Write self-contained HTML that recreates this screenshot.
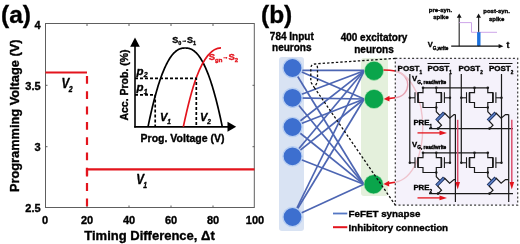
<!DOCTYPE html>
<html><head><meta charset="utf-8"><style>
html,body{margin:0;padding:0;background:#fff;}
svg{display:block;filter:blur(0.3px);}
text{font-family:"Liberation Sans", Arial, sans-serif;stroke:currentColor;stroke-width:0.35px;}
</style></head><body>
<svg width="520" height="244" viewBox="0 0 520 244">
<rect width="520" height="244" fill="#fff"/>
<text x="1" y="22.5" font-size="24.5" font-weight="bold" >(a)</text>
<rect x="45.5" y="23.5" width="208.8" height="184" fill="none" stroke="#5e5e5e" stroke-width="1"/>
<line x1="87" y1="207.5" x2="87" y2="205.5" stroke="#5e5e5e" stroke-width="1"/>
<line x1="87" y1="24" x2="87" y2="26" stroke="#5e5e5e" stroke-width="1"/>
<line x1="129" y1="207.5" x2="129" y2="205.5" stroke="#5e5e5e" stroke-width="1"/>
<line x1="129" y1="24" x2="129" y2="26" stroke="#5e5e5e" stroke-width="1"/>
<line x1="171" y1="207.5" x2="171" y2="205.5" stroke="#5e5e5e" stroke-width="1"/>
<line x1="171" y1="24" x2="171" y2="26" stroke="#5e5e5e" stroke-width="1"/>
<line x1="213" y1="207.5" x2="213" y2="205.5" stroke="#5e5e5e" stroke-width="1"/>
<line x1="213" y1="24" x2="213" y2="26" stroke="#5e5e5e" stroke-width="1"/>
<line x1="45.5" y1="85.3" x2="47.5" y2="85.3" stroke="#5e5e5e" stroke-width="1"/>
<line x1="254.5" y1="85.3" x2="252.5" y2="85.3" stroke="#5e5e5e" stroke-width="1"/>
<line x1="45.5" y1="146.7" x2="47.5" y2="146.7" stroke="#5e5e5e" stroke-width="1"/>
<line x1="254.5" y1="146.7" x2="252.5" y2="146.7" stroke="#5e5e5e" stroke-width="1"/>
<text x="40.6" y="28.5" font-size="11" font-weight="bold" text-anchor="end" >4</text>
<text x="40.6" y="89.7" font-size="11" font-weight="bold" text-anchor="end" >3.5</text>
<text x="40.6" y="150.89999999999998" font-size="11" font-weight="bold" text-anchor="end" >3</text>
<text x="40.6" y="212.2" font-size="11" font-weight="bold" text-anchor="end" >2.5</text>
<text x="45" y="224.2" font-size="11" font-weight="bold" text-anchor="middle" >0</text>
<text x="87" y="224.2" font-size="11" font-weight="bold" text-anchor="middle" >20</text>
<text x="129" y="224.2" font-size="11" font-weight="bold" text-anchor="middle" >40</text>
<text x="171" y="224.2" font-size="11" font-weight="bold" text-anchor="middle" >60</text>
<text x="213" y="224.2" font-size="11" font-weight="bold" text-anchor="middle" >80</text>
<text x="255" y="224.2" font-size="11" font-weight="bold" text-anchor="middle" >100</text>
<text x="149.5" y="239.8" font-size="13" font-weight="bold" text-anchor="middle" >Timing Difference, &#916;t</text>
<text transform="translate(18.8,115.8) rotate(-90)" x="0" y="0" font-size="12.8" font-weight="bold" text-anchor="middle" >Programming Voltage (V)</text>
<line x1="45.5" y1="72.5" x2="87" y2="72.5" stroke="#e3141d" stroke-width="2.2"/>
<line x1="87" y1="76" x2="87" y2="208" stroke="#e3141d" stroke-width="2.2" stroke-dasharray="7.8 7.5"/>
<polyline points="87,176.5 87,169.3 254.5,169.3" fill="none" stroke="#e3141d" stroke-width="2.2"/>
<text transform="translate(61.6,87.6) scale(0.84,1)" font-size="13.8" font-weight="bold" font-style="italic" >V<tspan font-size="8.2" dx="-0.8" dy="3.9">2</tspan></text>
<text transform="translate(136.3,184) scale(0.84,1)" font-size="13.8" font-weight="bold" font-style="italic" >V<tspan font-size="8.2" dx="-0.8" dy="3.9">1</tspan></text>
<line x1="135" y1="127.5" x2="135" y2="45" stroke="#000" stroke-width="1.6"/>
<polygon points="135,37.5 130.2,46.7 139.8,46.7" fill="#000"/>
<line x1="134.2" y1="126.8" x2="229" y2="126.8" stroke="#000" stroke-width="1.8"/>
<polygon points="236.2,126.8 227.5,121.8 227.5,131.8" fill="#000"/>
<polyline points="148.00,126.80 148.62,123.81 149.24,120.89 149.86,118.03 150.48,115.24 151.10,112.51 151.72,109.84 152.33,107.24 152.95,104.70 153.57,102.22 154.19,99.81 154.81,97.46 155.43,95.17 156.05,92.94 156.67,90.77 157.29,88.66 157.91,86.61 158.53,84.62 159.15,82.69 159.76,80.82 160.38,79.01 161.00,77.26 161.62,75.56 162.24,73.92 162.86,72.34 163.48,70.81 164.10,69.34 164.72,67.92 165.34,66.56 165.96,65.25 166.58,64.00 167.19,62.80 167.81,61.65 168.43,60.56 169.05,59.51 169.67,58.52 170.29,57.58 170.91,56.68 171.53,55.84 172.15,55.05 172.77,54.30 173.39,53.60 174.00,52.94 174.62,52.33 175.24,51.77 175.86,51.25 176.48,50.77 177.10,50.34 177.72,49.94 178.34,49.59 178.96,49.28 179.58,49.00 180.20,48.77 180.82,48.56 181.44,48.39 182.05,48.26 182.67,48.16 183.29,48.08 183.91,48.03 184.53,48.01 185.15,48.00 185.77,48.01 186.39,48.03 187.01,48.08 187.63,48.16 188.25,48.26 188.87,48.39 189.48,48.56 190.10,48.77 190.72,49.00 191.34,49.28 191.96,49.59 192.58,49.94 193.20,50.34 193.82,50.77 194.44,51.25 195.06,51.77 195.68,52.33 196.30,52.94 196.91,53.60 197.53,54.30 198.15,55.05 198.77,55.84 199.39,56.68 200.01,57.58 200.63,58.52 201.25,59.51 201.87,60.56 202.49,61.65 203.11,62.80 203.72,64.00 204.34,65.25 204.96,66.56 205.58,67.92 206.20,69.34 206.82,70.81 207.44,72.34 208.06,73.92 208.68,75.56 209.30,77.26 209.92,79.01 210.54,80.82 211.16,82.69 211.77,84.62 212.39,86.61 213.01,88.66 213.63,90.77 214.25,92.94 214.87,95.17 215.49,97.46 216.11,99.81 216.73,102.22 217.35,104.70 217.97,107.24 218.59,109.84 219.20,112.51 219.82,115.24 220.44,118.03 221.06,120.89 221.68,123.81 222.30,126.80" fill="none" stroke="#000" stroke-width="1.7"/>
<path d="M183.3,126.8 C189,100 200,48 221,47.8" fill="none" stroke="#e3141d" stroke-width="1.7"/>
<polyline points="135,78.4 196.3,78.4 196.3,126" fill="none" stroke="#000" stroke-width="1.7" stroke-dasharray="3 2"/>
<polyline points="135,94.8 155.2,94.8 155.2,126" fill="none" stroke="#000" stroke-width="1.7" stroke-dasharray="3 2"/>
<text x="136.6" y="74.8" font-size="11.5" font-weight="bold" font-style="italic" >p<tspan font-size="7" dy="2.6">2</tspan></text>
<text x="136.6" y="91.3" font-size="11.5" font-weight="bold" font-style="italic" >p<tspan font-size="7" dy="2.6">1</tspan></text>
<text x="160" y="121" font-size="11" font-weight="bold" font-style="italic" >V<tspan font-size="6.5" dy="3">1</tspan></text>
<text x="200" y="121" font-size="11" font-weight="bold" font-style="italic" >V<tspan font-size="6.5" dy="3">2</tspan></text>
<text x="172.3" y="42.8" font-size="9" font-weight="bold" >S<tspan font-size="5.5" dy="2">0</tspan><tspan font-size="5.5" dy="-2.8">&#8594;</tspan><tspan dy="0.8">S</tspan><tspan font-size="5.5" dy="2">1</tspan></text>
<text x="208.7" y="59.9" font-size="9.5" font-weight="bold" fill="#e3141d" color="#e3141d" >S<tspan font-size="6" dy="2.2">gn</tspan><tspan font-size="6" dy="-3">&#8594;</tspan><tspan dy="0.8">S</tspan><tspan font-size="6" dy="2.2">2</tspan></text>
<text x="182.5" y="141.6" font-size="10.5" font-weight="bold" text-anchor="middle" >Prog. Voltage (V)</text>
<text transform="translate(128.1,85) rotate(-90)" font-size="10.5" font-weight="bold" text-anchor="middle" >Acc. Prob. (%)</text>
<text x="261" y="23" font-size="24.5" font-weight="bold" >(b)</text>
<text x="291.8" y="40.3" font-size="10" font-weight="bold" text-anchor="middle" >784 Input</text>
<text x="291.8" y="51" font-size="10" font-weight="bold" text-anchor="middle" >neurons</text>
<text x="374" y="41.1" font-size="10" font-weight="bold" text-anchor="middle" >400 excitatory</text>
<text x="374" y="52.6" font-size="10" font-weight="bold" text-anchor="middle" >neurons</text>
<rect x="279" y="57" width="25" height="174" rx="3" fill="#d9e3f3"/>
<rect x="361" y="58" width="27" height="138" rx="3" fill="#e4f0dc"/>
<line x1="292.5" y1="70.3" x2="364.2" y2="70.3" stroke="#4d66b3" stroke-width="1.7"/>
<line x1="292.5" y1="68" x2="364.2" y2="99" stroke="#4d66b3" stroke-width="1.7"/>
<line x1="292.5" y1="68" x2="363.8" y2="184.3" stroke="#4d66b3" stroke-width="1.7"/>
<line x1="292.5" y1="97.8" x2="364.2" y2="70.8" stroke="#4d66b3" stroke-width="1.7"/>
<line x1="292.5" y1="97.8" x2="364.2" y2="99" stroke="#4d66b3" stroke-width="1.7"/>
<line x1="292.5" y1="97.8" x2="363.8" y2="184.3" stroke="#4d66b3" stroke-width="1.7"/>
<line x1="292.5" y1="127" x2="364.2" y2="70.8" stroke="#4d66b3" stroke-width="1.7"/>
<line x1="292.5" y1="127" x2="364.2" y2="99" stroke="#4d66b3" stroke-width="1.7"/>
<line x1="292.5" y1="127" x2="363.8" y2="184.3" stroke="#4d66b3" stroke-width="1.7"/>
<line x1="292.5" y1="156.3" x2="364.2" y2="70.8" stroke="#4d66b3" stroke-width="1.7"/>
<line x1="292.5" y1="156.3" x2="364.2" y2="99" stroke="#4d66b3" stroke-width="1.7"/>
<line x1="292.5" y1="156.3" x2="363.8" y2="184.3" stroke="#4d66b3" stroke-width="1.7"/>
<line x1="292.5" y1="217" x2="364.2" y2="70.8" stroke="#4d66b3" stroke-width="1.7"/>
<line x1="292.5" y1="217" x2="364.2" y2="99" stroke="#4d66b3" stroke-width="1.7"/>
<line x1="292.5" y1="217" x2="363.8" y2="184.3" stroke="#4d66b3" stroke-width="1.7"/>
<circle cx="292.5" cy="68" r="9.6" fill="#3d6fcf" stroke="#b9cff2" stroke-width="1.4"/>
<circle cx="292.5" cy="97.8" r="9.6" fill="#3d6fcf" stroke="#b9cff2" stroke-width="1.4"/>
<circle cx="292.5" cy="127" r="9.6" fill="#3d6fcf" stroke="#b9cff2" stroke-width="1.4"/>
<circle cx="292.5" cy="156.3" r="9.6" fill="#3d6fcf" stroke="#b9cff2" stroke-width="1.4"/>
<circle cx="292.5" cy="217" r="9.6" fill="#3d6fcf" stroke="#b9cff2" stroke-width="1.4"/>
<circle cx="374" cy="70.8" r="9.6" fill="#0aa54b" stroke="#b8e8b8" stroke-width="0.6"/>
<circle cx="374" cy="99" r="9.6" fill="#0aa54b" stroke="#b8e8b8" stroke-width="0.6"/>
<circle cx="373.6" cy="184.3" r="9.6" fill="#0aa54b" stroke="#b8e8b8" stroke-width="0.6"/>
<path d="M383.5,70 Q390,70 395.5,71" fill="none" stroke="#e3141d" stroke-width="1.6"/>
<rect x="395.3" y="58.4" width="122.4" height="146.8" fill="#f5f2fb"/>
<path d="M395,71 C412,74 412,96 395,97.8" fill="none" stroke="#e7a4b4" stroke-width="1.4"/>
<path d="M395,71 C432,80 432,176 395,182.3" fill="none" stroke="#efc3cd" stroke-width="1.4"/>
<rect x="395.3" y="58.4" width="122.4" height="146.8" fill="none" stroke="#3a3a3a" stroke-width="1.2" stroke-dasharray="2 2.2"/>
<line x1="395" y1="97.8" x2="388" y2="98.6" stroke="#e3141d" stroke-width="1.6"/>
<polygon points="383.8,99 389.5,95.8 389.5,101.6" fill="#e3141d"/>
<line x1="395" y1="182.3" x2="388" y2="183.4" stroke="#e3141d" stroke-width="1.6"/>
<polygon points="383.5,184 389.2,180.8 389.2,186.6" fill="#e3141d"/>
<path d="M395.3,58.4 L316,63.8 C312,64 310.8,65.5 310.8,69 L310.8,82 L314.3,87.5 L317.5,82 L317.5,68 C317.5,65.5 316.5,64.3 314.5,64" fill="none" stroke="#111" stroke-width="1.3" stroke-dasharray="2.4 2"/>
<line x1="314.3" y1="87.5" x2="395.4" y2="205.2" stroke="#111" stroke-width="1.3" stroke-dasharray="2.4 2"/>
<line x1="333" y1="213.5" x2="347.3" y2="213.5" stroke="#5577c4" stroke-width="1.8"/>
<line x1="333" y1="227.2" x2="347.3" y2="227.2" stroke="#e3141d" stroke-width="2"/>
<text x="348.5" y="216.8" font-size="9.8" font-weight="bold" >FeFET synapse</text>
<text x="348.5" y="230.9" font-size="9.8" font-weight="bold" >Inhibitory connection</text>
<path d="M409.8,97.8 H415" fill="none" stroke="#1a1a1a" stroke-width="1.1"/>
<path d="M450,97.8 H444.4" fill="none" stroke="#1a1a1a" stroke-width="1.1"/>
<path d="M415,92.2 V103" fill="none" stroke="#1a1a1a" stroke-width="1.1"/>
<path d="M444.4,92.2 V103" fill="none" stroke="#1a1a1a" stroke-width="1.1"/>
<path d="M423,87.8 V92.7 H418 V102.5 H423 V107.5 H436.3 V102.5 H441.4 V92.7 H436.3 V87.8" fill="none" stroke="#1a1a1a" stroke-width="1.2"/>
<path d="M418,92.7 V102.5" fill="none" stroke="#1a1a1a" stroke-width="1.6"/>
<path d="M441.4,92.7 V102.5" fill="none" stroke="#1a1a1a" stroke-width="1.6"/>
<path d="M436.3,107.5 V111.7 L439.8,115.4" fill="none" stroke="#1a1a1a" stroke-width="1.2"/>
<line x1="436.4" y1="120.6" x2="444.2" y2="112.8" stroke="#1d2f5e" stroke-width="3.4"/>
<line x1="436.9" y1="120.1" x2="443.7" y2="113.3" stroke="#5b80c8" stroke-width="1.6"/>
<path d="M461.3,97.8 H466.5" fill="none" stroke="#1a1a1a" stroke-width="1.1"/>
<path d="M501.5,97.8 H495.9" fill="none" stroke="#1a1a1a" stroke-width="1.1"/>
<path d="M466.5,92.2 V103" fill="none" stroke="#1a1a1a" stroke-width="1.1"/>
<path d="M495.9,92.2 V103" fill="none" stroke="#1a1a1a" stroke-width="1.1"/>
<path d="M474.5,87.8 V92.7 H469.5 V102.5 H474.5 V107.5 H487.8 V102.5 H492.9 V92.7 H487.8 V87.8" fill="none" stroke="#1a1a1a" stroke-width="1.2"/>
<path d="M469.5,92.7 V102.5" fill="none" stroke="#1a1a1a" stroke-width="1.6"/>
<path d="M492.9,92.7 V102.5" fill="none" stroke="#1a1a1a" stroke-width="1.6"/>
<path d="M487.8,107.5 V111.7 L491.3,115.4" fill="none" stroke="#1a1a1a" stroke-width="1.2"/>
<line x1="487.9" y1="120.6" x2="495.7" y2="112.8" stroke="#1d2f5e" stroke-width="3.4"/>
<line x1="488.4" y1="120.1" x2="495.2" y2="113.3" stroke="#5b80c8" stroke-width="1.6"/>
<path d="M409.8,162.8 H415" fill="none" stroke="#1a1a1a" stroke-width="1.1"/>
<path d="M450,162.8 H444.4" fill="none" stroke="#1a1a1a" stroke-width="1.1"/>
<path d="M415,157.2 V168" fill="none" stroke="#1a1a1a" stroke-width="1.1"/>
<path d="M444.4,157.2 V168" fill="none" stroke="#1a1a1a" stroke-width="1.1"/>
<path d="M423,152.8 V157.7 H418 V167.5 H423 V172.5 H436.3 V167.5 H441.4 V157.7 H436.3 V152.8" fill="none" stroke="#1a1a1a" stroke-width="1.2"/>
<path d="M418,157.7 V167.5" fill="none" stroke="#1a1a1a" stroke-width="1.6"/>
<path d="M441.4,157.7 V167.5" fill="none" stroke="#1a1a1a" stroke-width="1.6"/>
<path d="M436.3,172.5 V176.7 L439.8,180.4" fill="none" stroke="#1a1a1a" stroke-width="1.2"/>
<line x1="436.4" y1="185.6" x2="444.2" y2="177.8" stroke="#1d2f5e" stroke-width="3.4"/>
<line x1="436.9" y1="185.1" x2="443.7" y2="178.3" stroke="#5b80c8" stroke-width="1.6"/>
<path d="M461.3,162.8 H466.5" fill="none" stroke="#1a1a1a" stroke-width="1.1"/>
<path d="M501.5,162.8 H495.9" fill="none" stroke="#1a1a1a" stroke-width="1.1"/>
<path d="M466.5,157.2 V168" fill="none" stroke="#1a1a1a" stroke-width="1.1"/>
<path d="M495.9,157.2 V168" fill="none" stroke="#1a1a1a" stroke-width="1.1"/>
<path d="M474.5,152.8 V157.7 H469.5 V167.5 H474.5 V172.5 H487.8 V167.5 H492.9 V157.7 H487.8 V152.8" fill="none" stroke="#1a1a1a" stroke-width="1.2"/>
<path d="M469.5,157.7 V167.5" fill="none" stroke="#1a1a1a" stroke-width="1.6"/>
<path d="M492.9,157.7 V167.5" fill="none" stroke="#1a1a1a" stroke-width="1.6"/>
<path d="M487.8,172.5 V176.7 L491.3,180.4" fill="none" stroke="#1a1a1a" stroke-width="1.2"/>
<line x1="487.9" y1="185.6" x2="495.7" y2="177.8" stroke="#1d2f5e" stroke-width="3.4"/>
<line x1="488.4" y1="185.1" x2="495.2" y2="178.3" stroke="#5b80c8" stroke-width="1.6"/>
<path d="M444.2,112.8 L449.6,118.1 L454,114.6 H455.4" fill="none" stroke="#1a1a1a" stroke-width="1.2"/>
<path d="M437.6,121 L441.5,125.2 L438,128.6" fill="none" stroke="#1a1a1a" stroke-width="1.2"/>
<circle cx="438" cy="128.6" r="1.3" fill="#1a1a1a"/>
<path d="M444.2,177.8 L449.6,183.1 L454,179.6 H455.4" fill="none" stroke="#1a1a1a" stroke-width="1.2"/>
<path d="M437.6,186 L441.5,190.2 L438,193.6" fill="none" stroke="#1a1a1a" stroke-width="1.2"/>
<circle cx="438" cy="193.6" r="1.3" fill="#1a1a1a"/>
<path d="M495.7,112.8 L501.1,118.1 L505.5,114.6 H508.7" fill="none" stroke="#1a1a1a" stroke-width="1.2"/>
<path d="M489.1,121 L493.0,125.2 L489.5,128.6" fill="none" stroke="#1a1a1a" stroke-width="1.2"/>
<circle cx="489.5" cy="128.6" r="1.3" fill="#1a1a1a"/>
<path d="M495.7,177.8 L501.1,183.1 L505.5,179.6 H508.7" fill="none" stroke="#1a1a1a" stroke-width="1.2"/>
<path d="M489.1,186 L493.0,190.2 L489.5,193.6" fill="none" stroke="#1a1a1a" stroke-width="1.2"/>
<circle cx="489.5" cy="193.6" r="1.3" fill="#1a1a1a"/>
<path d="M409.8,74 V162.7" fill="none" stroke="#1a1a1a" stroke-width="1.2"/>
<path d="M450,74 V162.7" fill="none" stroke="#1a1a1a" stroke-width="1.2"/>
<path d="M461.3,74 V162.7" fill="none" stroke="#1a1a1a" stroke-width="1.2"/>
<path d="M501.5,74 V162.7" fill="none" stroke="#1a1a1a" stroke-width="1.2"/>
<path d="M455.4,114.6 V202" fill="none" stroke="#1a1a1a" stroke-width="1.2"/>
<path d="M508.7,114.6 V202" fill="none" stroke="#1a1a1a" stroke-width="1.2"/>
<path d="M423,87.8 H487.8" fill="none" stroke="#1a1a1a" stroke-width="1.2"/>
<circle cx="423" cy="87.8" r="1.3" fill="#1a1a1a"/>
<circle cx="436.3" cy="87.8" r="1.3" fill="#1a1a1a"/>
<circle cx="474.5" cy="87.8" r="1.3" fill="#1a1a1a"/>
<circle cx="487.8" cy="87.8" r="1.3" fill="#1a1a1a"/>
<circle cx="409.8" cy="97.8" r="1.2" fill="#1a1a1a"/>
<circle cx="450" cy="97.8" r="1.2" fill="#1a1a1a"/>
<circle cx="461.3" cy="97.8" r="1.2" fill="#1a1a1a"/>
<circle cx="501.5" cy="97.8" r="1.2" fill="#1a1a1a"/>
<circle cx="436.3" cy="107.5" r="1.2" fill="#1a1a1a"/><circle cx="487.8" cy="107.5" r="1.2" fill="#1a1a1a"/>
<path d="M429,128.6 H513" fill="none" stroke="#1a1a1a" stroke-width="1.3"/>
<line x1="417.5" y1="132.9" x2="440" y2="132.9" stroke="#e3141d" stroke-width="1.3"/>
<polygon points="447,132.9 439.5,130.6 439.5,135.2" fill="#e3141d"/>
<path d="M423,152.8 H487.8" fill="none" stroke="#1a1a1a" stroke-width="1.2"/>
<circle cx="423" cy="152.8" r="1.3" fill="#1a1a1a"/>
<circle cx="436.3" cy="152.8" r="1.3" fill="#1a1a1a"/>
<circle cx="474.5" cy="152.8" r="1.3" fill="#1a1a1a"/>
<circle cx="487.8" cy="152.8" r="1.3" fill="#1a1a1a"/>
<circle cx="409.8" cy="162.8" r="1.2" fill="#1a1a1a"/>
<circle cx="450" cy="162.8" r="1.2" fill="#1a1a1a"/>
<circle cx="461.3" cy="162.8" r="1.2" fill="#1a1a1a"/>
<circle cx="501.5" cy="162.8" r="1.2" fill="#1a1a1a"/>
<circle cx="436.3" cy="172.5" r="1.2" fill="#1a1a1a"/><circle cx="487.8" cy="172.5" r="1.2" fill="#1a1a1a"/>
<path d="M429,193.6 H513" fill="none" stroke="#1a1a1a" stroke-width="1.3"/>
<line x1="417.5" y1="197.9" x2="440" y2="197.9" stroke="#e3141d" stroke-width="1.3"/>
<polygon points="447,197.9 439.5,195.6 439.5,200.2" fill="#e3141d"/>
<line x1="457.7" y1="119.8" x2="457.7" y2="183" stroke="#dc4f6e" stroke-width="1.5"/>
<polygon points="457.7,189.4 455.4,182 460.0,182" fill="#e3141d"/>
<line x1="511.8" y1="119.8" x2="511.8" y2="183" stroke="#dc4f6e" stroke-width="1.5"/>
<polygon points="511.8,189.4 509.5,182 514.1,182" fill="#e3141d"/>
<text x="397.6" y="70.9" font-size="8" font-weight="bold" >POST<tspan font-size="4.6" dy="3.4">1</tspan></text>
<text x="427.4" y="70.9" font-size="8" font-weight="bold" >POST<tspan font-size="4.6" dy="3.4">1</tspan></text>
<text x="458.4" y="70.9" font-size="8" font-weight="bold" >POST<tspan font-size="4.6" dy="3.4">2</tspan></text>
<text x="488.9" y="70.9" font-size="8" font-weight="bold" >POST<tspan font-size="4.6" dy="3.4">2</tspan></text>
<line x1="427.5" y1="63.5" x2="449.8" y2="63.5" stroke="#111" stroke-width="1"/>
<line x1="489" y1="63.5" x2="512.5" y2="63.5" stroke="#111" stroke-width="1"/>
<text x="412" y="81" font-size="7.8" font-weight="bold" >V<tspan font-size="4.8" dy="2.6">G, </tspan><tspan font-size="4.8">read/write</tspan></text>
<text x="412" y="146.8" font-size="7.8" font-weight="bold" >V<tspan font-size="4.8" dy="2.6">G, </tspan><tspan font-size="4.8">read/write</tspan></text>
<text x="413.4" y="124.8" font-size="7.8" font-weight="bold" >PRE<tspan font-size="4.6" dy="3">1</tspan></text>
<text x="413.4" y="189.8" font-size="7.8" font-weight="bold" >PRE<tspan font-size="4.6" dy="3">2</tspan></text>
<line x1="459.2" y1="46.2" x2="459.2" y2="17" stroke="#333" stroke-width="1.2"/>
<polygon points="459.2,13.5 456.8,17.8 461.6,17.8" fill="#111"/>
<line x1="478.6" y1="46.2" x2="478.6" y2="17" stroke="#333" stroke-width="1.2"/>
<polygon points="478.6,13.5 476.2,17.8 481,17.8" fill="#111"/>
<polyline points="459.2,22.6 471.5,22.6 471.5,32.3 497,32.3" fill="none" stroke="#c79be6" stroke-width="0.9"/>
<rect x="477.1" y="32.2" width="3.4" height="13.8" fill="#1c72dd"/>
<line x1="451.2" y1="46.2" x2="499" y2="46.2" stroke="#111" stroke-width="1.2"/>
<polygon points="503.4,46.2 498.6,44.1 498.6,48.3" fill="#111"/>
<text x="506.5" y="47.6" font-size="8.5" font-weight="bold" >t</text>
<text x="440.5" y="11.9" font-size="6" font-weight="bold" text-anchor="middle" >pre-syn.</text>
<text x="440.8" y="19.2" font-size="6" font-weight="bold" text-anchor="middle" >spike</text>
<text x="496.6" y="13.4" font-size="6" font-weight="bold" text-anchor="middle" >post-syn.</text>
<text x="496.6" y="20.6" font-size="6" font-weight="bold" text-anchor="middle" >spike</text>
<text x="427.8" y="47.1" font-size="7.5" font-weight="bold" >V<tspan font-size="4.6" dy="2.4">G,write</tspan></text>
</svg>
</body></html>
